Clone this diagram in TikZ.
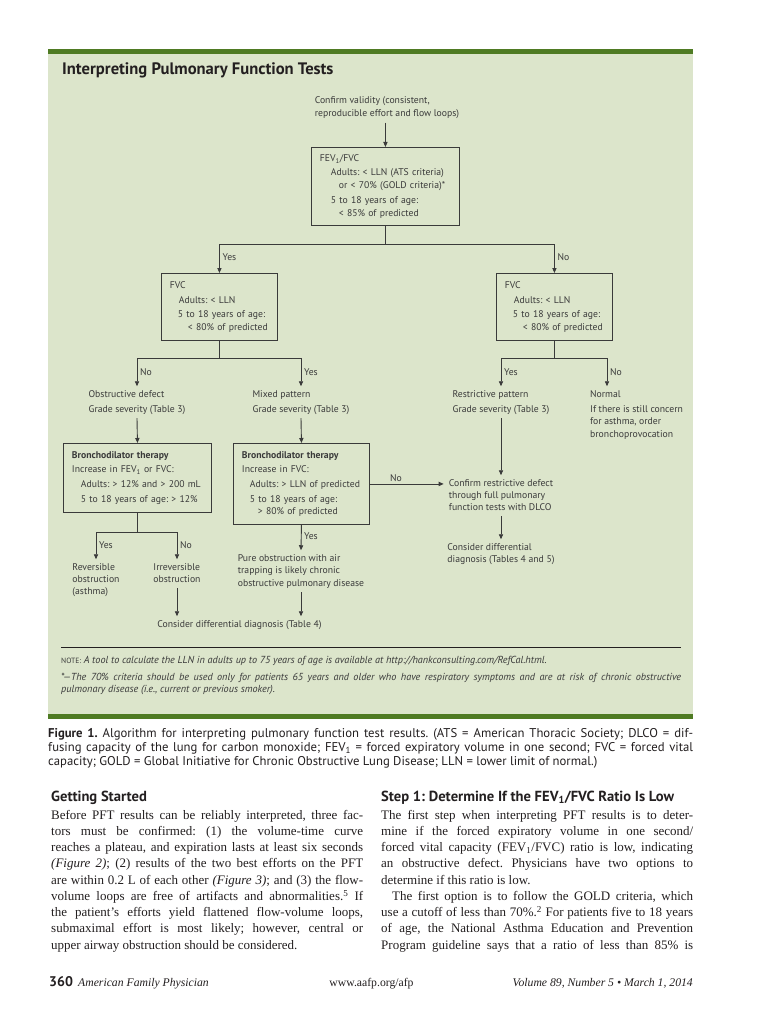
\documentclass[tikz,border=0pt]{standalone}
\usepackage{fontspec}
\setmainfont{Liberation Serif}
\newfontfamily\dgfont{PT Sans}
\usetikzlibrary{arrows.meta,calc}
\setlength\parindent{0pt}
\frenchspacing
\definecolor{panel}{HTML}{DCE5CB}
\definecolor{bar}{HTML}{4F7B23}
\definecolor{ink}{HTML}{3A3A3A}
\definecolor{txt}{HTML}{231F20}
\newcommand\dg{\dgfont\fontsize{9.7}{12.5}\selectfont}
\newcommand\bx{\dgfont\fontsize{9.7}{13}\selectfont}
\newcommand\bodyf{\fontsize{13}{16.25}\selectfont}
\newcommand\capf{\dgfont\fontsize{12.7}{14}\selectfont}
\newcommand\fnf{\dgfont\itshape\fontsize{10.2}{12}\selectfont}
\newcommand\tl[1]{\mbox{\strut#1}}
\tikzset{
  arr/.style={draw=ink, line width=0.9pt, -{Triangle[length=5pt,width=4.2pt]}},
  boxnode/.style={draw=ink, line width=0.9pt, align=left, anchor=north west,
    inner xsep=8.5pt, inner ysep=0pt, font=\bx, text=ink},
  tb/.style={align=left, anchor=north, inner xsep=0pt, inner ysep=2pt, font=\dg, text=ink},
  lbl/.style={anchor=west, inner sep=1.5pt, font=\dg, text=ink},
}
\begin{document}
\begin{tikzpicture}[x=1pt,y=-1pt]
\useasboundingbox (0,0) rectangle (768,1024);
\fill[white] (0,0) rectangle (768,1024);
% panel
\fill[panel] (48,54) rectangle (693,714);
\fill[bar] (48,49) rectangle (693,54);
\fill[bar] (48,714) rectangle (693,719);
\node[anchor=base west, inner sep=0, font=\dgfont\bfseries\fontsize{16.6}{18}\selectfont, text=txt] (title) at (62,75) {Interpreting Pulmonary Function Tests};

% boxes
\node[boxnode, text width=131pt, minimum height=78pt] (fev) at (311,147)
  {\tl{FEV\textsubscript{1}/FVC}\\[1pt]
   \tl{\hspace*{11pt}Adults: < LLN (ATS criteria)}\\
   \tl{\hspace*{19pt}or < 70\% (GOLD criteria)*}\\[2pt]
   \tl{\hspace*{11pt}5 to 18 years of age:}\\
   \tl{\hspace*{19pt}< 85\% of predicted}};
\node[boxnode, text width=99pt, minimum height=67pt] (fvcL) at (161,273)
  {\tl{FVC}\\[2pt]
   \tl{\hspace*{9pt}Adults: < LLN}\\[1pt]
   \tl{\hspace*{8pt}5 to 18 years of age:}\\
   \tl{\hspace*{18pt}< 80\% of predicted}};
\node[boxnode, text width=99pt, minimum height=67pt] (fvcR) at (496,273)
  {\tl{FVC}\\[2pt]
   \tl{\hspace*{9pt}Adults: < LLN}\\[1pt]
   \tl{\hspace*{8pt}5 to 18 years of age:}\\
   \tl{\hspace*{18pt}< 80\% of predicted}};
\node[boxnode, text width=131pt, minimum height=69pt] (bd1) at (63,443)
  {\tl{\bfseries Bronchodilator therapy}\\[1pt]
   \tl{Increase in FEV\textsubscript{1} or FVC:}\\[2pt]
   \tl{\hspace*{9pt}Adults: > 12\% and > 200 mL}\\[2pt]
   \tl{\hspace*{9pt}5 to 18 years of age: > 12\%}};
\node[boxnode, text width=119pt, minimum height=81pt] (bd2) at (233,443)
  {\tl{\bfseries Bronchodilator therapy}\\[1pt]
   \tl{Increase in FVC:}\\[2pt]
   \tl{\hspace*{8pt}Adults: > LLN of predicted}\\[2pt]
   \tl{\hspace*{8pt}5 to 18 years of age:}\\[-1pt]
   \tl{\hspace*{16pt}> 80\% of predicted}};

% text blocks
\node[tb] (conf) at (387,92.75) {\tl{Confirm validity (consistent,}\\[0.5pt]\tl{reproducible effort and flow loops)}};
\node[tb] (obst) at (137,386.25) {\tl{Obstructive defect}\\[2.5pt]\tl{Grade severity (Table 3)}};
\node[tb] (mixed) at (301,386.25) {\tl{Mixed pattern}\\[2.5pt]\tl{Grade severity (Table 3)}};
\node[tb] (restr) at (501,386.25) {\tl{Restrictive pattern}\\[2.5pt]\tl{Grade severity (Table 3)}};
\node[tb, anchor=north west] (normal) at (590,386.25) {\tl{Normal}\\[2.5pt]\tl{If there is still concern}\\\tl{for asthma, order}\\\tl{bronchoprovocation}};
\node[tb] (crd) at (501,475.25) {\tl{Confirm restrictive defect}\\[-0.5pt]\tl{through full pulmonary}\\[-0.5pt]\tl{function tests with DLCO}};
\node[tb] (cdR) at (501,539.25) {\tl{Consider differential}\\[-0.5pt]\tl{diagnosis (Tables 4 and 5)}};
\node[tb] (rev) at (96,559.25) {\tl{Reversible}\\[-0.5pt]\tl{obstruction}\\[-0.5pt]\tl{(asthma)}};
\node[tb] (irr) at (177,559.25) {\tl{Irreversible}\\[-0.5pt]\tl{obstruction}};
\node[tb] (pure) at (301,550.25) {\tl{Pure obstruction with air}\\\tl{trapping is likely chronic}\\\tl{obstructive pulmonary disease}};
\node[tb] (cdd) at (239.5,616.25) {\tl{Consider differential diagnosis (Table 4)}};
\coordinate (nt) at ([xshift=17pt]normal.north west);

% connectors
\draw[arr] (conf.south -| fev.north) -- (fev.north);
\draw[arr] (fev.south) -- ++(0,19) -| (fvcL.north);
\draw[arr] (fev.south) -- ++(0,19) -| (fvcR.north);
\draw[arr] (fvcL.south) -- ++(0,18) -| (obst.north);
\draw[arr] (fvcL.south) -- ++(0,18) -| (mixed.north);
\draw[arr] (fvcR.south) -- ++(0,18) -| (restr.north);
\draw[arr] (fvcR.south) -- ++(0,18) -| (nt);
\draw[arr] (obst.south) -- (bd1.north);
\draw[arr] (mixed.south) -- (bd2.north);
\draw[arr] (restr.south) -- (crd.north);
\draw[arr] (crd.south) -- (cdR.north);
\draw[arr, shorten >=5pt] (bd2.east) -- node[lbl, anchor=south, pos=0.33] {No} (crd.west |- bd2.east);
\draw[arr] (bd1.south) -- ++(0,20) -| (rev.north);
\draw[arr] (bd1.south) -- ++(0,20) -| (irr.north);
\draw[arr] (bd2.south) -- (pure.north);
\draw[arr] (irr.south) -- (irr.south |- cdd.north);
\draw[arr] (pure.south) -- (pure.south |- cdd.north);

% labels
\node[lbl] at ($(fvcL.north)+(1.5,-16)$) {Yes};
\node[lbl] at ($(fvcR.north)+(1.5,-16)$) {No};
\node[lbl] at ($(obst.north)+(1.5,-14)$) {No};
\node[lbl] at ($(mixed.north)+(1.5,-14)$) {Yes};
\node[lbl] at ($(restr.north)+(1.5,-14)$) {Yes};
\node[lbl] at ($(nt)+(1.5,-14)$) {No};
\node[lbl] at ($(rev.north)+(1.5,-14)$) {Yes};
\node[lbl] at ($(irr.north)+(1.5,-14)$) {No};
\node[lbl] at ($(pure.north)+(1.5,-14)$) {Yes};

% separator and notes
\draw[draw=txt, line width=0.8pt] (61,647) -- (681,647);
\node[anchor=north west, inner sep=0, align=left, font=\fnf, text=ink] (notes) at (61,655)
 {\strut{\upshape\fontsize{7.6}{8}\selectfont NOTE:} A tool to calculate the LLN in adults up to 75 years of age is available at http://hankconsulting.com/RefCal.html.\\[5pt]
  \strut\makebox[620pt][s]{*—The 70\% criteria should be used only for patients 65 years and older who have respiratory symptoms and are at risk of chronic obstructive}\\
  \strut pulmonary disease (i.e., current or previous smoker).};

% caption
\node[anchor=north west, inner sep=0, align=left, font=\capf, text=txt] (cap) at (48,727.2)
 {\strut\makebox[645pt][s]{\textbf{Figure 1.} Algorithm for interpreting pulmonary function test results. (ATS = American Thoracic Society; DLCO = dif-}\\
  \strut\makebox[645pt][s]{fusing capacity of the lung for carbon monoxide; FEV\textsubscript{1} = forced expiratory volume in one second; FVC = forced vital}\\
  \strut capacity; GOLD = Global Initiative for Chronic Obstructive Lung Disease; LLN = lower limit of normal.)};

% body headings
\node[anchor=base west, inner sep=0, font=\dgfont\bfseries\fontsize{14.6}{16}\selectfont, text=txt] (h1) at (51,801) {Getting Started};
\node[anchor=base west, inner sep=0, font=\dgfont\bfseries\fontsize{14.6}{16}\selectfont, text=txt] (h2) at (381,801) {Step 1: Determine If the FEV\textsubscript{1}/FVC Ratio Is Low};

% body columns
\node[anchor=north west, inner sep=0, align=left, font=\bodyf, text=txt] (colL) at (51,807.6)
 {\strut\makebox[312pt][s]{Before PFT results can be reliably interpreted, three fac-}\\
  \strut\makebox[312pt][s]{tors must be confirmed: (1) the volume-time curve}\\
  \strut\makebox[312pt][s]{reaches a plateau, and expiration lasts at least six seconds}\\
  \strut\makebox[312pt][s]{\textit{(Figure 2)}; (2) results of the two best efforts on the PFT}\\
  \strut\makebox[312pt][s]{are within 0.2 L of each other \textit{(Figure 3)}; and (3) the flow-}\\
  \strut\makebox[312pt][s]{volume loops are free of artifacts and abnormalities.\textsuperscript{5} If}\\
  \strut\makebox[312pt][s]{the patient’s efforts yield flattened flow-volume loops,}\\
  \strut\makebox[312pt][s]{submaximal effort is most likely; however, central or}\\
  \strut upper airway obstruction should be considered.};
\node[anchor=north west, inner sep=0, align=left, font=\bodyf, text=txt] (colR) at (381,807.6)
 {\strut\makebox[312pt][s]{The first step when interpreting PFT results is to deter-}\\
  \strut\makebox[312pt][s]{mine if the forced expiratory volume in one second/}\\
  \strut\makebox[312pt][s]{forced vital capacity (FEV\textsubscript{1}/FVC) ratio is low, indicating}\\
  \strut\makebox[312pt][s]{an obstructive defect. Physicians have two options to}\\
  \strut determine if this ratio is low.\\
  \strut\hspace*{11pt}\makebox[301pt][s]{The first option is to follow the GOLD criteria, which}\\
  \strut\makebox[312pt][s]{use a cutoff of less than 70\%.\textsuperscript{2} For patients five to 18 years}\\
  \strut\makebox[312pt][s]{of age, the National Asthma Education and Prevention}\\
  \strut\makebox[312pt][s]{Program guideline says that a ratio of less than 85\% is}};

% footer
\node[anchor=base west, inner sep=0, font=\dgfont\bfseries\fontsize{14}{16}\selectfont, text=txt] (pg) at (49,986) {360};
\node[anchor=base west, inner sep=0, font=\itshape\fontsize{11.7}{13}\selectfont, text=txt] (jr) at (78,986) {American Family Physician};
\node[anchor=base, inner sep=0, font=\fontsize{11.7}{13}\selectfont, text=txt] (url) at (371.5,986) {www.aafp.org/afp};
\node[anchor=base east, inner sep=0, font=\itshape\fontsize{11.7}{13}\selectfont, text=txt] (vol) at (693,986) {Volume 89, Number 5 • March 1, 2014};
\end{tikzpicture}
\end{document}
